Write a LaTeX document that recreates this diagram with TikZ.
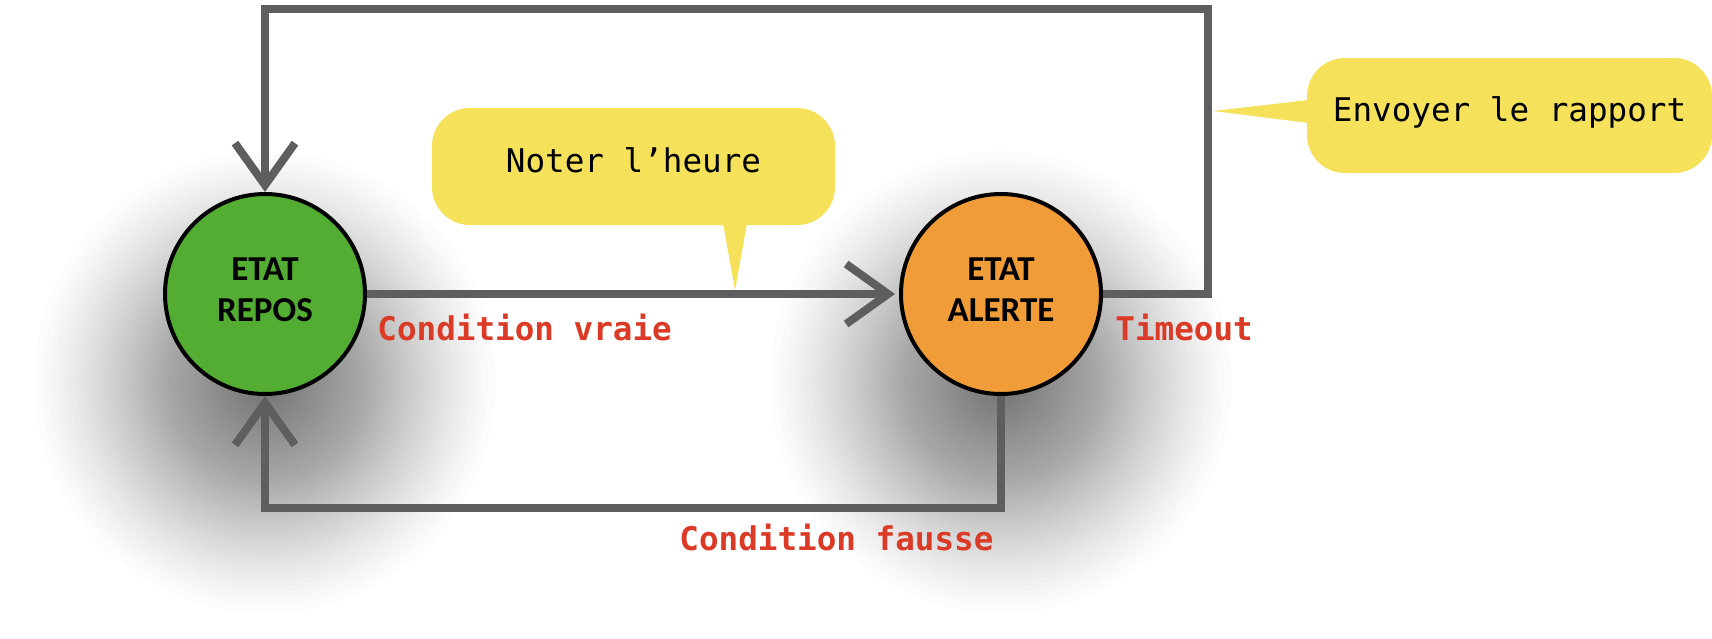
\documentclass[tikz,border=0pt]{standalone}
\usepackage{fontspec}
\newfontfamily\monofont{DejaVu Sans Mono}
\newfontfamily\statefont{Carlito}
\usetikzlibrary{arrows.meta,calc}
\definecolor{repgreen}{RGB}{83,173,50}
\definecolor{alertorange}{RGB}{240,156,56}
\definecolor{calloutyellow}{RGB}{245,225,90}
\definecolor{labelred}{RGB}{218,58,38}
\definecolor{linegray}{RGB}{94,94,94}
\tikzset{
  state/.style={circle, draw=black, line width=2pt, minimum size=100pt, inner sep=0pt,
    align=center, font=\fontsize{17.5pt}{20.5pt}\selectfont\statefont\bfseries},
  conn/.style={draw=linegray, line width=4pt},
  barb/.style={-{Straight Barb[length=21pt,width=30pt]}},
  bubble/.style={fill=calloutyellow, rounded corners=19pt, inner sep=0pt,
    text height=12pt, text depth=6pt, font=\fontsize{16.3pt}{19pt}\selectfont\monofont},
  bubbletail/.style={fill=calloutyellow},
  translabel/.style={text=labelred, inner sep=0pt,
    font=\fontsize{16.3pt}{19pt}\selectfont\monofont\bfseries},
  shadowring/.style={fill=black, fill opacity=0.011}
}
\begin{document}
\begin{tikzpicture}[x=0.5pt, y=-0.5pt]
  \useasboundingbox (0,0) rectangle (1712,638);
  \fill[white] (0,0) rectangle (1712,638);
  % soft shadows (stacked translucent discs)
  \coordinate (shA) at (265,382);
  \coordinate (shB) at (1001,382);
  \begin{scope}
    \clip (0,0) rectangle (1712,638);
    \foreach \k in {1,...,57} {
      \pgfmathsetmacro{\rr}{118*(1-((\k-0.5)/57)^0.8)}
      \fill[shadowring] (shA) circle[radius=\rr pt];
      \fill[shadowring] (shB) circle[radius=\rr pt];
    }
  \end{scope}
  % states
  \node[state, fill=repgreen] (repos) at (265,294) {ETAT\\REPOS\rule[-4.5pt]{0pt}{4.5pt}};
  \node[state, fill=alertorange] (alerte) at (1001,294) {ETAT\\ALERTE\rule[-4.5pt]{0pt}{4.5pt}};
  % loop corners
  \coordinate (tr) at (1208,9);
  \coordinate (bl) at (265,508);
  % connectors
  \draw[conn, barb, shorten >=2pt] (repos.east) -- (alerte.west);
  \draw[conn, barb] (alerte.east) -| (tr) -| (repos.north);
  \draw[conn, barb] (alerte.south) |- (bl) -- (repos.south);
  % labels
  \node[translabel, anchor=base west] (lvraie) at (377,340) {Condition vraie};
  \node[translabel, anchor=base west] (ltimeout) at (1115,340) {Timeout};
  \node[translabel, anchor=base west] (lfausse) at (679,550) {Condition fausse};
  % callouts
  \coordinate (noterTip) at (735,290);
  \coordinate (envoyerTip) at (1213,111);
  \node[bubble, minimum width=201.5pt, minimum height=58.5pt] (noter) at (633.5,166.5) {Noter l’heure};
  \node[bubble, minimum width=202.5pt, minimum height=57.5pt] (envoyer) at (1509.5,115.5) {Envoyer le rapport};
  \fill[bubbletail] ([xshift=44.75pt,yshift=1pt]noter.south) -- ([xshift=56.75pt,yshift=1pt]noter.south) -- (noterTip) -- cycle;
  \fill[bubbletail] ([xshift=1pt,yshift=7.75pt]envoyer.west) -- ([xshift=1pt,yshift=-3.75pt]envoyer.west) -- (envoyerTip) -- cycle;
\end{tikzpicture}
\end{document}
